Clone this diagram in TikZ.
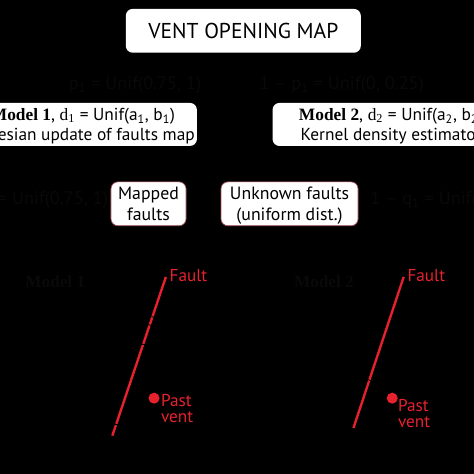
\documentclass[tikz,border=0pt]{standalone}
\usepackage{fontspec}
\setmainfont{PT Sans}
\newfontfamily\serifbf{Liberation Serif}
\usepackage{xcolor}
\usetikzlibrary{positioning}
\definecolor{faultred}{HTML}{E8212F}
\definecolor{faint}{HTML}{090909}
\definecolor{edgered}{HTML}{A8505A}
\newcommand{\dsub}[2]{{\serifbf #1}\textsubscript{\serifbf #2}}
\begin{document}
\begin{tikzpicture}[
		n/.style={rounded corners=5pt,fill=white,text=black,inner sep=0pt,align=center,text depth=0pt},
		lvl/.style={n,minimum height=1.09cm,font=\fontsize{12.5}{14.6}\selectfont},
		src/.style={n,draw=edgered,line width=0.5pt,minimum height=1.11cm,font=\fontsize{12.8}{14.6}\selectfont},
		dim/.style={text=faint,inner sep=0pt,font=\fontsize{13.2}{15}\selectfont},
		flt/.style={draw=faultred,line width=1.7pt},
		red/.style={text=faultred,inner sep=0pt,align=left,font=\fontsize{12.4}{11.6}\selectfont}
		]
		\useasboundingbox (0,0) rectangle (12,-12);
		\fill[black] (0,0) rectangle (12,-12);
		\clip (0,0) rectangle (12,-12);

		% Top boxes
		\node[n,minimum width=5.95cm,minimum height=1.11cm,font=\fontsize{15.5}{17}\selectfont] (map) at (6.16,-0.78) {VENT OPENING MAP};
		\node[lvl,minimum width=5.77cm] (mod1) at (2.1,-3.15) {{\serifbf\bfseries Model 1}, \dsub{d}{1} = Unif(a\textsubscript{1}, b\textsubscript{1})\\Bayesian update of faults map};
		\node[lvl,minimum width=6cm] (mod2) at (9.9,-3.15) {{\serifbf\bfseries Model 2}, \dsub{d}{2} = Unif(a\textsubscript{2}, b\textsubscript{2})\\Kernel density estimator};
		\node[dim] (p1) at (3.42,-2.15) {p\textsubscript{1} = Unif(0.75, 1)};
		\node[dim] (p2) at (8.65,-2.15) {1 -- p\textsubscript{1} = Unif(0, 0.25)};

		% Fault boxes
		\node[src,minimum width=1.9cm] (mapped) at (3.76,-5.16) {Mapped\\faults};
		\node[src,minimum width=3.47cm] (unknown) at (7.33,-5.16) {Unknown faults\\(uniform dist.)};
		\node[dim,anchor=east] (q1) at (2.74,-5.06) {q\textsubscript{1} = Unif(0.75, 1)};
		\node[dim,anchor=west] (q2) at (9.37,-5.06) {1 -- q\textsubscript{1} = Unif(0, 0.25)};

		% Model 1 panel
		\node[dim,font=\fontsize{12.4}{15}\selectfont\serifbf\bfseries] (lab1) at (1.4,-7.12) {Model 1};
		\coordinate (top1) at (4.2,-7.01);
		\coordinate (bot1) at (2.83,-11.07);
		\draw[flt,dash pattern=on 30pt off 0.7pt on 5.5pt off 0.7pt on 14pt off 0.8pt on 60pt off 1pt on 8pt] (top1)--(bot1);
		\node[red,anchor=west] (fault1) at (4.29,-6.98) {Fault};
		\node[circle,fill=faultred,inner sep=0pt,minimum size=0.28cm] (vent1) at (3.9,-10.08) {};
		\node[red,anchor=north west] (past1) at (4.07,-9.98) {Past\\vent};

		% Model 2 panel
		\node[dim,font=\fontsize{12.4}{15}\selectfont\serifbf\bfseries] (lab2) at (8.2,-7.12) {Model 2};
		\coordinate (top2) at (10.22,-7.01);
		\coordinate (bot2) at (8.87,-11.07);
		\draw[flt,dash pattern=on 78pt off 0.7pt on 36pt] (top2)--(bot2);
		\node[red,anchor=west] (fault2) at (10.31,-6.98) {Fault};
		\node[circle,fill=faultred,inner sep=0pt,minimum size=0.28cm] (vent2) at (9.93,-10.08) {};
		\node[red,anchor=north west] (past2) at (10.07,-10.11) {Past\\vent};
	\end{tikzpicture}
\end{document}
